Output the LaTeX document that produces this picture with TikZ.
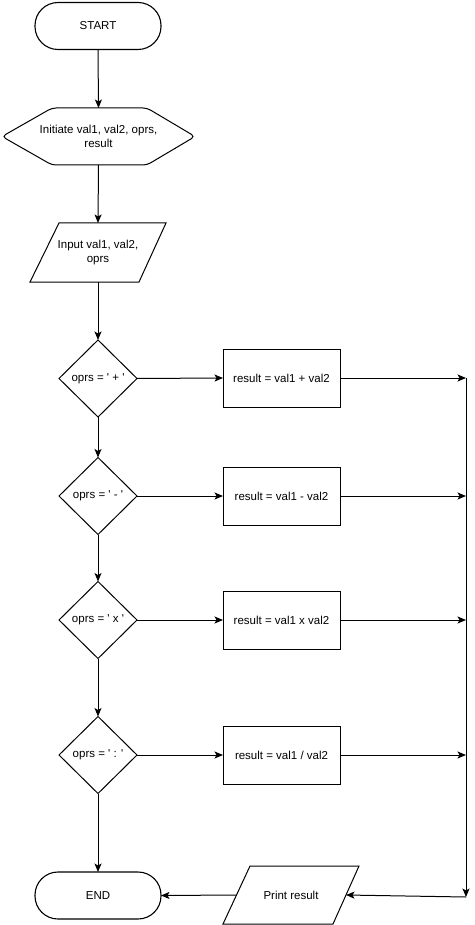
\documentclass[tikz,border=0pt]{standalone}
\usepackage{fontspec}
\newfontfamily\libsans{Liberation Sans}
\usetikzlibrary{arrows.meta}
\tikzset{
  base/.style={draw=none, inner sep=0pt, outer sep=0pt, align=center, font=\libsans\fontsize{11.5}{14}\selectfont},
  term/.style={base, draw, line width=1.1pt, rounded corners=23pt, minimum width=126pt, minimum height=47pt},
  proc/.style={base, draw, line width=1pt, minimum width=117pt, minimum height=58pt},
  dec/.style={base, minimum width=78pt, minimum height=77pt},
  shp/.style={line width=1pt},
  arr/.style={line width=1pt, -{Stealth[length=8.5pt,width=7pt,inset=2pt]}}
}
\begin{document}
\begin{tikzpicture}[x=1pt,y=-1pt]
\useasboundingbox (0,0) rectangle (474,925);
% nodes
\node[term] (start) at (98,26) {START};
\node[base, minimum width=193pt, minimum height=57pt] (init) at (98.5,136.5) {Initiate val1, val2, oprs,\\result};
\node[base, minimum width=136pt, minimum height=59pt] (inp) at (98,252.5) {Input val1, val2,\\oprs};
\node[dec] (d1) at (98,378.5) {oprs = ' + '};
\node[dec] (d2) at (98,496) {oprs = ' - '};
\node[dec] (d3) at (98,620) {oprs = ' x '};
\node[dec] (d4) at (98,755) {oprs = ' : '};
\node[proc] (b1) at (281.5,378) {result = val1 + val2};
\node[proc] (b2) at (281.5,496) {result = val1 - val2};
\node[proc] (b3) at (281.5,620) {result = val1 x val2};
\node[proc] (b4) at (281.5,755) {result = val1 / val2};
\node[term] (end) at (98,895.5) {END};
\node[base, minimum width=136pt, minimum height=58pt] (pr) at (291,895) {Print result};
\coordinate (j1) at (466,378);
\coordinate (j2) at (466,496);
\coordinate (j3) at (466,620);
\coordinate (j4) at (466,755);
\coordinate (j5) at (466,897);
% shapes drawn around named nodes
\draw[shp, rounded corners=4pt] (init.west) -- ([xshift=50pt]init.north west) -- ([xshift=-48pt]init.north east) -- (init.east) -- ([xshift=-48pt]init.south east) -- ([xshift=50pt]init.south west) -- cycle;
\draw[shp] ([xshift=29pt]inp.north west) -- (inp.north east) -- ([xshift=-27pt]inp.south east) -- (inp.south west) -- cycle;
\draw[shp] ([xshift=27pt]pr.north west) -- (pr.north east) -- ([xshift=-26pt]pr.south east) -- (pr.south west) -- cycle;
\foreach \d in {d1,d2,d3,d4}{
  \draw[shp] (\d.north) -- (\d.east) -- (\d.south) -- (\d.west) -- cycle;
}
% connectors
\draw[arr] (start.south) -- (init.north);
\draw[arr] (init.south) -- (inp.north);
\draw[arr] (inp.south) -- (d1.north);
\draw[arr] (d1.south) -- (d2.north);
\draw[arr] (d2.south) -- (d3.north);
\draw[arr] (d3.south) -- (d4.north);
\draw[arr] (d4.south) -- (end.north);
\draw[arr] (d1.east) -- (b1.west);
\draw[arr] (d2.east) -- (b2.west);
\draw[arr] (d3.east) -- (b3.west);
\draw[arr] (d4.east) -- (b4.west);
\draw[arr] (b1.east) -- (j1);
\draw[arr] (b2.east) -- (j2);
\draw[arr] (b3.east) -- (j3);
\draw[arr] (b4.east) -- (j4);
\draw[arr] (j1) -- (j5);
\draw[arr] (j5) -- ([xshift=-13pt]pr.east);
\draw[arr] ([xshift=13.5pt]pr.west) -- (end.east);
\end{tikzpicture}
\end{document}
